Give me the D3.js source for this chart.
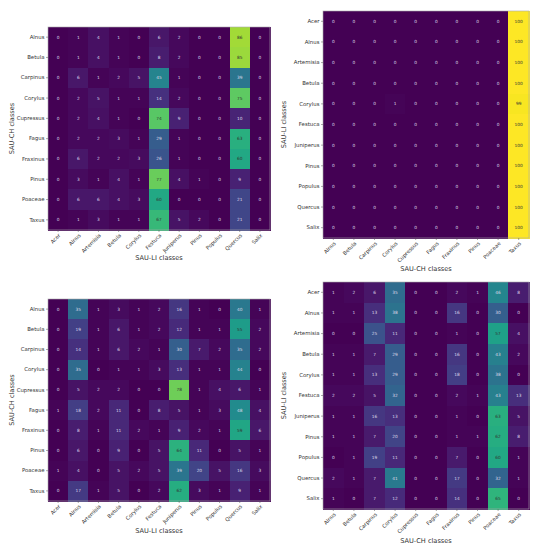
<!DOCTYPE html>
<html>
<head>
<meta charset="utf-8">
<script src="https://cdn.jsdelivr.net/npm/d3@7"></script>
<style>
  body { margin: 0; background: #fff; }
  svg { font-family: "DejaVu Sans", sans-serif; }
</style>
</head>
<body>
<div id="chart"></div>
<script>
// class lists
const chClasses = ["Alnus", "Betula", "Carpinus", "Corylus", "Cupressus", "Fagus", "Fraxinus", "Pinus", "Poaceae", "Taxus"];
const liClasses = ["Acer", "Alnus", "Artemisia", "Betula", "Corylus", "Festuca", "Juniperus", "Pinus", "Populus", "Quercus", "Salix"];

// top left: SAU-CH rows, SAU-LI cols
const valuesA = [
  [0, 1, 4, 1, 0, 6, 2, 0, 0, 86, 0],
  [0, 1, 4, 1, 0, 8, 2, 0, 0, 85, 0],
  [0, 6, 1, 2, 5, 45, 1, 0, 0, 39, 0],
  [0, 2, 5, 1, 1, 14, 2, 0, 0, 75, 0],
  [0, 2, 4, 1, 0, 74, 9, 0, 0, 10, 0],
  [0, 2, 2, 3, 1, 29, 1, 0, 0, 63, 0],
  [0, 6, 2, 2, 3, 26, 1, 0, 0, 60, 0],
  [0, 3, 1, 4, 1, 77, 4, 1, 0, 9, 0],
  [0, 6, 6, 4, 3, 60, 0, 0, 0, 21, 0],
  [0, 1, 3, 1, 1, 67, 5, 2, 0, 21, 0],
];

// top right: SAU-LI rows, SAU-CH cols
const valuesB = [
  [0, 0, 0, 0, 0, 0, 0, 0, 0, 100],
  [0, 0, 0, 0, 0, 0, 0, 0, 0, 100],
  [0, 0, 0, 0, 0, 0, 0, 0, 0, 100],
  [0, 0, 0, 0, 0, 0, 0, 0, 0, 100],
  [0, 0, 0, 1, 0, 0, 0, 0, 0, 99],
  [0, 0, 0, 0, 0, 0, 0, 0, 0, 100],
  [0, 0, 0, 0, 0, 0, 0, 0, 0, 100],
  [0, 0, 0, 0, 0, 0, 0, 0, 0, 100],
  [0, 0, 0, 0, 0, 0, 0, 0, 0, 100],
  [0, 0, 0, 0, 0, 0, 0, 0, 0, 100],
  [0, 0, 0, 0, 0, 0, 0, 0, 0, 100],
];

// bottom left: SAU-CH rows, SAU-LI cols
const valuesC = [
  [0, 35, 1, 3, 1, 2, 16, 1, 0, 40, 1],
  [0, 19, 1, 6, 1, 2, 12, 1, 1, 55, 2],
  [0, 14, 1, 6, 2, 1, 30, 7, 2, 35, 2],
  [0, 35, 0, 1, 1, 3, 13, 1, 1, 44, 0],
  [0, 5, 2, 2, 0, 0, 78, 1, 4, 6, 1],
  [1, 18, 2, 11, 0, 8, 5, 1, 3, 48, 4],
  [0, 8, 1, 11, 2, 1, 9, 2, 1, 59, 6],
  [0, 6, 0, 9, 0, 5, 64, 11, 0, 5, 1],
  [1, 4, 0, 5, 2, 5, 39, 20, 5, 16, 3],
  [0, 17, 1, 5, 0, 2, 62, 3, 1, 9, 1],
];

// bottom right: SAU-LI rows, SAU-CH cols
const valuesD = [
  [1, 2, 6, 35, 0, 0, 2, 1, 46, 8],
  [1, 1, 13, 38, 0, 0, 16, 0, 30, 0],
  [0, 0, 25, 11, 0, 0, 1, 0, 57, 4],
  [1, 1, 7, 29, 0, 0, 16, 0, 43, 2],
  [1, 1, 13, 29, 0, 0, 18, 0, 38, 0],
  [2, 2, 5, 32, 0, 0, 2, 1, 43, 13],
  [1, 1, 16, 13, 0, 0, 1, 0, 63, 5],
  [1, 1, 7, 20, 0, 0, 1, 1, 62, 8],
  [0, 1, 19, 11, 0, 0, 7, 0, 60, 1],
  [2, 1, 7, 41, 0, 0, 17, 0, 32, 1],
  [1, 0, 7, 12, 0, 0, 14, 0, 65, 0],
];

const panels = [
  { rows: chClasses, cols: liClasses, values: valuesA, box: [48, 270, 27, 230],
    xLabel: "SAU-LI classes", yLabel: "SAU-CH classes", xLabelY: 260, yLabelX: 12 },
  { rows: liClasses, cols: chClasses, values: valuesB, box: [323, 529, 11, 238],
    xLabel: "SAU-CH classes", yLabel: "SAU-LI classes", xLabelY: 271, yLabelX: 284 },
  { rows: chClasses, cols: liClasses, values: valuesC, box: [48, 270, 299, 501],
    xLabel: "SAU-LI classes", yLabel: "SAU-CH classes", xLabelY: 533, yLabelX: 12 },
  { rows: liClasses, cols: chClasses, values: valuesD, box: [323, 529, 282, 509],
    xLabel: "SAU-CH classes", yLabel: "SAU-LI classes", xLabelY: 543, yLabelX: 284 },
];

const width = 542;
const height = 550;
const color = d3.scaleSequential(d3.interpolateViridis).domain([0, 100]);

const svg = d3.select("#chart").append("svg")
  .attr("width", width)
  .attr("height", height);

panels.forEach((p) => {
  const [x0, x1, y0, y1] = p.box;
  const x = d3.scaleBand().domain(p.cols).range([x0, x1]);
  const y = d3.scaleBand().domain(p.rows).range([y0, y1]);

  const cells = p.values.flatMap((row, i) =>
    row.map((v, j) => ({ row: p.rows[i], col: p.cols[j], v }))
  );

  const g = svg.append("g");

  g.selectAll("rect.cell")
    .data(cells)
    .join("rect")
    .attr("class", "cell")
    .attr("x", (d) => x(d.col))
    .attr("y", (d) => y(d.row))
    .attr("width", x.bandwidth() + 0.5)
    .attr("height", y.bandwidth() + 0.5)
    .attr("shape-rendering", "crispEdges")
    .attr("fill", (d) => color(d.v));

  g.selectAll("text.val")
    .data(cells)
    .join("text")
    .attr("class", "val")
    .attr("x", (d) => x(d.col) + x.bandwidth() / 2)
    .attr("y", (d) => y(d.row) + y.bandwidth() / 2)
    .attr("dy", "0.35em")
    .attr("text-anchor", "middle")
    .attr("font-size", 4.3)
    .attr("fill", (d) => (d.v >= 50 ? "#333" : "#dcd8e8"))
    .text((d) => d.v);

  g.append("rect")
    .attr("x", x0)
    .attr("y", y0)
    .attr("width", x1 - x0)
    .attr("height", y1 - y0)
    .attr("fill", "none")
    .attr("stroke", "#aaa")
    .attr("stroke-width", 0.6);

  const xAxis = g.append("g")
    .attr("transform", `translate(0,${y1})`)
    .call(d3.axisBottom(x).tickSize(2).tickPadding(2));
  xAxis.select(".domain").remove();
  xAxis.selectAll("line").attr("stroke", "#555").attr("stroke-width", 0.5);
  xAxis.selectAll("text")
    .attr("font-size", 5.2)
    .attr("fill", "#333")
    .attr("text-anchor", "end")
    .attr("x", 0)
    .attr("y", 0)
    .attr("dy", "0.35em")
    .attr("transform", "translate(1.5,4.5) rotate(-45)")
    .attr("font-family", "DejaVu Sans");

  const yAxis = g.append("g")
    .attr("transform", `translate(${x0},0)`)
    .call(d3.axisLeft(y).tickSize(2).tickPadding(1.5));
  yAxis.select(".domain").remove();
  yAxis.selectAll("line").attr("stroke", "#555").attr("stroke-width", 0.5);
  yAxis.selectAll("text")
    .attr("font-size", 5.4)
    .attr("fill", "#333")
    .attr("font-family", "DejaVu Sans");

  g.append("text")
    .attr("x", (x0 + x1) / 2)
    .attr("y", p.xLabelY)
    .attr("text-anchor", "middle")
    .attr("font-size", 6.6)
    .attr("fill", "#333")
    .text(p.xLabel);

  g.append("text")
    .attr("transform", `translate(${p.yLabelX},${(y0 + y1) / 2}) rotate(-90)`)
    .attr("text-anchor", "middle")
    .attr("dy", "0.35em")
    .attr("font-size", 6.6)
    .attr("fill", "#333")
    .text(p.yLabel);
});
</script>
</body>
</html>
